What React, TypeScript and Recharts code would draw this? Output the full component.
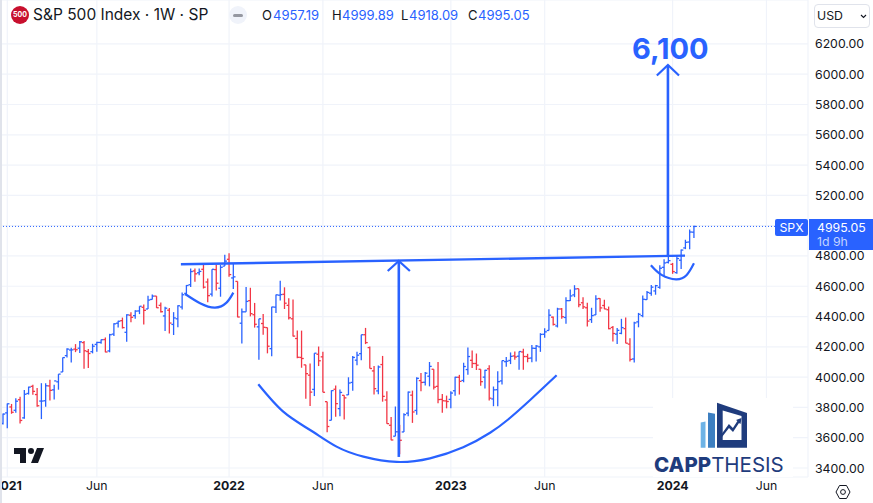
import React from 'react';
import { ComposedChart, Bar, Line, XAxis, YAxis, CartesianGrid, ReferenceLine } from 'recharts';

const BLUE = '#2962ff';
const RED = '#f23645';
const INK = '#131722';
const GRID = '#f0f3fa';
const NAVY = '#1f3c7d';
const FONT = 'Inter, "Noto Sans", sans-serif';

// weekly bars, first one is the week of 2020-12-28 (week -1)
const opens = [3694,3764,3803,3781,3851,3731,3892,3939,3885,3842,3844,3942,3916,3969,4034,4142,4179,4185,4191,4228,4169,4168,4216,4229,4248,4173,4284,4356,4373,4296,4409,4406,4437,4461,4450,4513,4535,4474,4404,4442,4348,4385,4463,4553,4610,4701,4689,4712,4628,4548,4710,4587,4733,
  4778,4655,4632,4356,4431,4505,4412,4332,4354,4327,4188,4462,4541,4547,4474,4385,4255,4130,4081,4013,3919,4151,4134,3838,3715,3920,3792,3880,3883,3965,4112,4155,4280,4195,4041,3909,4083,3849,3682,3610,3640,3638,3762,3881,3780,3977,3966,4006,4052,3939,3853,3843,
  3853,3910,3999,3978,4050,4111,4090,4052,4000,4055,3856,3917,3975,4102,4110,4140,4138,4166,4136,4126,4190,4200,4283,4308,4396,4338,4450,4394,4505,4543,4584,4491,4458,4380,4411,4519,4473,4445,4328,4284,4289,4320,4218,4120,4365,4406,4512,4554,4569,4593,4725,4758,
  4745,4690,4772,4853,4892,4957.19];
const highs = [3760,3826,3823,3861,3870,3915,3937,3950,3928,3960,3960,3983,3949,4020,4129,4191,4194,4218,4238,4238,4186,4220,4234,4249,4262,4286,4355,4372,4393,4415,4429,4441,4468,4480,4537,4545,4535,4492,4465,4457,4429,4475,4559,4608,4718,4718,4718,4743,4652,4713,4743,4740,4808,
  4818,4749,4632,4453,4595,4590,4490,4385,4416,4327,4465,4546,4637,4593,4520,4513,4308,4307,4081,4090,4158,4202,4168,3838,3913,3945,3918,3880,3999,4140,4167,4280,4325,4203,4073,4076,4140,3906,3736,3806,3685,3762,3905,3911,3999,4028,4034,4100,4052,4100,3888,3878,
  3906,4003,4015,4095,4195,4176,4156,4052,4048,4079,3938,4039,4110,4133,4163,4170,4170,4187,4154,4212,4212,4290,4322,4448,4400,4458,4456,4527,4578,4607,4584,4527,4491,4458,4541,4521,4511,4466,4338,4325,4385,4393,4256,4365,4424,4539,4568,4608,4609,4738,4778,4793,
  4754,4802,4842,4907,4975,4999.89];
const lows = [3687,3662,3758,3764,3694,3725,3885,3884,3805,3723,3805,3845,3853,3917,4034,4129,4097,4165,4159,4056,4061,4157,4167,4220,4164,4164,4271,4328,4321,4233,4362,4385,4416,4347,4450,4513,4457,4427,4305,4288,4278,4329,4447,4537,4595,4630,4672,4585,4495,4532,4572,4531,4733,
  4662,4582,4395,4222,4431,4401,4327,4114,4279,4157,4138,4424,4506,4450,4381,4268,4124,4062,3858,3810,3875,4073,3900,3636,3715,3738,3742,3721,3882,3910,4079,4112,4218,4057,3886,3887,3838,3693,3584,3610,3491,3638,3741,3698,3751,3906,3945,3939,3918,3827,3764,3794,
  3794,3877,3885,3966,4015,4060,4047,3943,3925,3846,3808,3808,3951,4069,4086,4114,4049,4048,4098,4099,4103,4167,4260,4308,4341,4328,4385,4352,4503,4528,4461,4450,4335,4358,4411,4431,4449,4316,4235,4219,4283,4223,4104,4096,4329,4396,4511,4537,4544,4583,4666,4751,
  4682,4682,4714,4845,4845,4918.09];
const closes = [3756,3824,3768,3841,3714,3887,3934,3906,3811,3842,3943,3913,3975,4020,4129,4185,4180,4181,4233,4174,4156,4204,4229,4247,4166,4280,4352,4369,4327,4411,4395,4436,4468,4441,4509,4535,4458,4432,4455,4357,4391,4471,4544,4605,4697,4682,4698,4594,4538,4712,4620,4725,4766,
  4677,4662,4397,4431,4500,4419,4349,4385,4329,4204,4463,4543,4545,4488,4392,4271,4131,4123,4023,3901,4158,4108,3900,3674,3911,3825,3899,3863,3961,4130,4145,4280,4228,4057,3924,4067,3873,3693,3585,3639,3583,3752,3901,3770,3992,3965,4026,4071,3934,3852,3844,3839,
  3895,3999,3972,4070,4136,4090,4079,3970,4045,3861,3916,3970,4109,4105,4137,4133,4169,4136,4124,4191,4205,4282,4299,4409,4348,4450,4399,4505,4536,4582,4478,4464,4370,4406,4516,4457,4450,4320,4288,4309,4327,4224,4117,4358,4415,4514,4559,4594,4604,4719,4754,4769,
  4697,4783,4839,4890,4958,4995.05];

const lastClose = 4995.05;

const priceTicks = [3400,3600,3800,4000,4200,4400,4600,4800,5000,5200,5400,5600,5800,6000,6200];
const weekTicks = [0,21,52,74,104,126,156,178];
const weekLabels = ['2021','Jun','2022','Jun','2023','Jun','2024','Jun'];

// hand drawn annotations, as [week, price]
const neckline = [[40.7,4745],[158.9,4802]];
const cup = [[58.85,3953],[64.7,3772],[71,3651],[77.2,3541],[83.5,3475],[91.3,3440],[99.1,3464],[106.9,3537],[113.2,3633],[117.5,3722],[122.6,3849],[128.8,4012]];
const leftHandle = [[41.7,4549],[45.2,4488],[48.7,4459],[51.4,4492],[53,4558]];
const rightHandle = [[150.9,4739],[153.4,4675],[156.8,4646],[159.3,4675],[161,4752]];
const cupArrow = [[91.8,3473],[91.8,4767]];
const cupArrowHead = [[89.2,4701],[91.8,4767],[94.4,4701]];
const targetArrow = [[154.9,4800],[154.9,6061]];
const targetArrowHead = [[152.3,5992],[154.9,6061],[157.5,5992]];

const rows = opens.map((open, i) => ({
  week: i - 1,
  open,
  high: highs[i],
  low: lows[i],
  close: closes[i],
  range: [lows[i], highs[i]],
}));

const toPoints = (pts: number[][]) => pts.map(([week, price]) => ({ week, price }));

const OhlcBar = (props: any) => {
  const { x, y, width, height, payload } = props;
  if (x + width < 0) return null;
  const cx = x + width / 2;
  const span = payload.high - payload.low;
  const yAt = (v: number) => y + ((payload.high - v) / span) * height;
  const color = payload.close >= payload.open ? BLUE : RED;
  return (
    <g stroke={color} strokeWidth={1.3} fill="none">
      <line x1={cx} x2={cx} y1={y} y2={y + height} />
      <line x1={cx - 2.2} x2={cx} y1={yAt(payload.open)} y2={yAt(payload.open)} />
      <line x1={cx} x2={cx + 2.2} y1={yAt(payload.close)} y2={yAt(payload.close)} />
    </g>
  );
};

const WeekTick = (props: any) => {
  const { x, y, payload } = props;
  const label = weekLabels[weekTicks.indexOf(payload.value)];
  const isYear = label !== 'Jun';
  return (
    <text x={x} y={y} textAnchor="middle" dominantBaseline="central" fontFamily={FONT} fontSize={12.3} fontWeight={isYear ? 700 : 400} fill={INK}>
      {label}
    </text>
  );
};

const PriceTick = (props: any) => {
  const { x, y, payload } = props;
  return (
    <text x={x} y={y} textAnchor="start" dominantBaseline="central" fontFamily={FONT} fontSize={12.3} fill={INK}>
      {payload.value.toFixed(2)}
    </text>
  );
};

const sketches = [
  { key: 'neck', pts: neckline, type: 'linear', w: 2.4 },
  { key: 'cup', pts: cup, type: 'natural', w: 2.2 },
  { key: 'left', pts: leftHandle, type: 'natural', w: 2.2 },
  { key: 'right', pts: rightHandle, type: 'natural', w: 2.2 },
  { key: 'a1', pts: cupArrow, type: 'linear', w: 2.6 },
  { key: 'h1', pts: cupArrowHead, type: 'linear', w: 2.2 },
  { key: 'a2', pts: targetArrow, type: 'linear', w: 2.6 },
  { key: 'h2', pts: targetArrowHead, type: 'linear', w: 2.2 },
];

const Abs = ({ style, children }: any) => (
  <div style={{ position: 'absolute', whiteSpace: 'nowrap', fontFamily: FONT, ...style }}>{children}</div>
);

const Ohlc = ({ x, letter, vx, value }: any) => (
  <>
    <Abs style={{ left: x, top: 7, fontSize: 13, lineHeight: '17px', color: INK }}>{letter}</Abs>
    <Abs style={{ left: vx, top: 7, fontSize: 13, lineHeight: '17px', color: BLUE }}>{value}</Abs>
  </>
);

export default function App() {
  return (
    <div style={{ position: 'fixed', left: 0, top: 0, width: 873, height: 503, overflow: 'hidden', background: '#fff' }}>
      <ComposedChart width={873} height={503} data={rows} margin={{ top: 0, right: 0, bottom: 0, left: 0 }}>
        <CartesianGrid stroke={GRID} strokeWidth={1.2} />
        <XAxis
          dataKey="week"
          type="number"
          domain={[-1.71, 187.74]}
          allowDataOverflow
          ticks={weekTicks}
          tick={<WeekTick />}
          axisLine={false}
          tickLine={false}
          height={26}
          interval={0}
        />
        <YAxis
          orientation="right"
          type="number"
          domain={[3340.6, 6490]}
          allowDataOverflow
          ticks={priceTicks}
          tick={<PriceTick />}
          axisLine={false}
          tickLine={false}
          width={65}
          interval={0}
          tickMargin={1}
        />
        <ReferenceLine y={lastClose} stroke={BLUE} strokeWidth={1} strokeDasharray="1 2" />
        <Bar dataKey="range" barSize={4} shape={<OhlcBar />} isAnimationActive={false} />
        {sketches.map((s) => (
          <Line
            key={s.key}
            data={toPoints(s.pts)}
            dataKey="price"
            type={s.type as any}
            stroke={BLUE}
            strokeWidth={s.w}
            dot={false}
            activeDot={false}
            legendType="none"
            isAnimationActive={false}
          />
        ))}
      </ComposedChart>

      <Abs style={{ left: 0, top: 0, width: 2, height: 503, background: '#e0e3eb' }} />

      {/* header */}
      <Abs style={{ left: 11, top: 6, width: 18, height: 18, borderRadius: 9, background: '#c8102e', color: '#fff', fontSize: 7, fontWeight: 700, lineHeight: '18px', textAlign: 'center' }}>500</Abs>
      <Abs style={{ left: 33, top: 5, fontSize: 15.5, lineHeight: '20px', color: INK }}>S&amp;P 500 Index · 1W · SP</Abs>
      <Abs style={{ left: 229, top: 6, width: 18, height: 18, borderRadius: 9, background: '#f0f3fa' }} />
      <Abs style={{ left: 233, top: 13.5, width: 10, height: 3.5, borderRadius: 1.5, background: '#9598a1' }} />
      <Ohlc x={262} letter="O" vx={273} value="4957.19" />
      <Ohlc x={332} letter="H" vx={342} value="4999.89" />
      <Ohlc x={401} letter="L" vx={409} value="4918.09" />
      <Ohlc x={468} letter="C" vx={478} value="4995.05" />

      {/* price scale top */}
      <Abs style={{ left: 814, top: 4, width: 56, height: 24, boxSizing: 'border-box', border: '1px solid #e0e3eb', borderRadius: 4 }} />
      <Abs style={{ left: 817, top: 8, fontSize: 12.3, lineHeight: '16px', color: INK }}>USD</Abs>
      <svg style={{ position: 'absolute', left: 860, top: 14 }} width="7" height="5"><path d="M1 1l2.5 2.5L6 1" fill="none" stroke={INK} strokeWidth="1.1" /></svg>

      {/* last price */}
      <Abs style={{ left: 775, top: 219, width: 33, height: 17, borderRadius: 2, background: BLUE, color: '#fff', fontSize: 12.3, lineHeight: '17px', textAlign: 'center' }}>SPX</Abs>
      <Abs style={{ left: 809, top: 219, width: 64, height: 31, background: BLUE }} />
      <Abs style={{ left: 817, top: 220, fontSize: 12.3, lineHeight: '15px', color: '#fff' }}>4995.05</Abs>
      <Abs style={{ left: 817, top: 234, fontSize: 12.3, lineHeight: '15px', color: 'rgba(255,255,255,0.72)' }}>1d 9h</Abs>

      <Abs style={{ left: 632, top: 29, fontSize: 29, lineHeight: '40px', fontWeight: 700, color: BLUE }}>6,100</Abs>

      {/* capp thesis logo */}
      <Abs style={{ left: 653, top: 398, width: 140, height: 79, background: '#fff' }} />
      <svg style={{ position: 'absolute', left: 695, top: 398 }} width="60" height="54" viewBox="695 398 60 54">
        <path d="M700.7 422.5L705.5 421.5V447.7H700.7Z" fill="#6db3e6" />
        <path d="M708 412.5L715 413.8V447.7H708Z" fill="#3d7fc1" />
        <path d="M717 402.7L747 413V447.7H717Z" fill={NAVY} />
        <path d="M722.7 410.5L741.5 416V440H722.7Z" fill="#fff" />
        <path d="M724 437l7-9 4 4 6-9 1.5 1 1-6-5.5 2 1.4 1-4.5 7-4-4-8 11z" fill={NAVY} transform="translate(-2 0)" />
      </svg>
      <Abs style={{ left: 654, top: 452, fontSize: 20.5, lineHeight: '25px', color: NAVY }}>
        <span style={{ fontWeight: 800 }}>CAPP</span>
        <span style={{ fontWeight: 400 }}>THESIS</span>
      </Abs>

      {/* tradingview mark */}
      <svg style={{ position: 'absolute', left: 12, top: 442 }} width="36" height="28" viewBox="0 0 36 28">
        <path d="M14 6H2v6h6v9h6V6zm12 15h-7l6-15h7l-6 15zm-7-9a3 3 0 1 0 0-6 3 3 0 0 0 0 6z" fill={INK} />
      </svg>

      {/* settings */}
      <svg style={{ position: 'absolute', left: 835, top: 484 }} width="16" height="16" viewBox="0 0 16 16">
        <path d="M4.5 1.5h7L15 8l-3.5 6.5h-7L1 8z" fill="none" stroke={INK} strokeWidth="1" />
        <circle cx="8" cy="8" r="2.4" fill="none" stroke={INK} strokeWidth="1" />
      </svg>
    </div>
  );
}
